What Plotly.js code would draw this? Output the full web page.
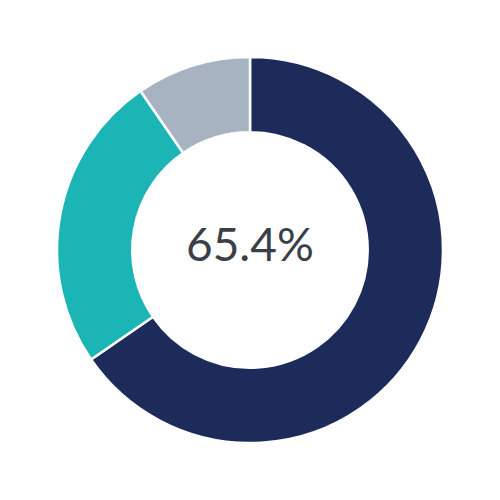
<!DOCTYPE html>
<html>
<head>
<meta charset="utf-8">
<script src="https://cdn.plot.ly/plotly-3.0.1.min.js"></script>
<style>
  html, body { margin: 0; padding: 0; background: #fff; }
  #chart { width: 500px; height: 500px; }
</style>
</head>
<body>
<div id="chart"></div>
<script>
var labels = ['A', 'B', 'C'];
var values = [65.4, 25.0, 9.6];
var colors = ['#1c2b5a', '#1bb5b6', '#a8b3c1'];
var centerLabel = '65.4%';

var data = [{
    type: 'pie',
    labels: labels,
    values: values,
    hole: 0.61,
    sort: false,
    direction: 'clockwise',
    rotation: 0,
    textinfo: 'none',
    hoverinfo: 'none',
    marker: {
        colors: colors,
        line: { color: '#ffffff', width: 2.5 }
    },
    domain: { x: [0.114, 0.886], y: [0.114, 0.886] }
}];

var layout = {
    width: 500,
    height: 500,
    margin: { l: 0, r: 0, t: 0, b: 0 },
    showlegend: false,
    paper_bgcolor: '#ffffff',
    annotations: [{
        text: centerLabel,
        x: 0.5, y: 0.514,
        xref: 'paper', yref: 'paper',
        showarrow: false,
        font: { family: 'Lato', size: 46, color: '#3b3f48' }
    }]
};

Plotly.newPlot('chart', data, layout, { displayModeBar: false, staticPlot: true });
</script>
</body>
</html>
